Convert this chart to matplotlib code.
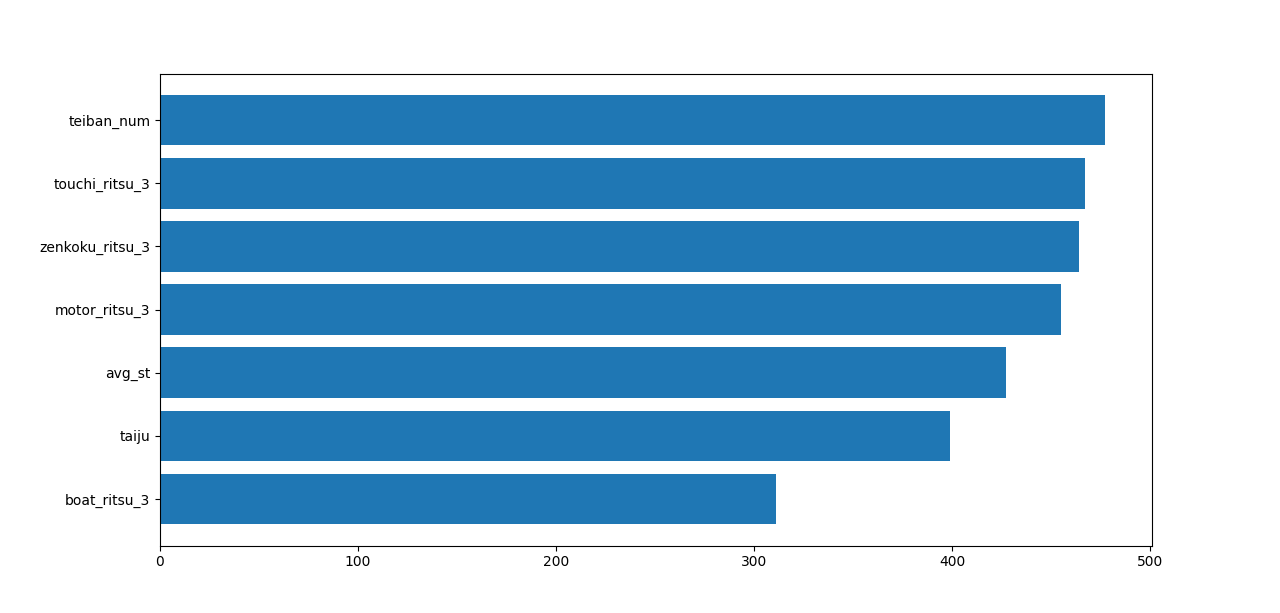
import matplotlib
matplotlib.use('Agg')
import matplotlib.pyplot as plt

features = ['boat_ritsu_3', 'taiju', 'avg_st', 'motor_ritsu_3',
            'zenkoku_ritsu_3', 'touchi_ritsu_3', 'teiban_num']
importance = [311, 399, 427, 455, 464, 467, 477]

fig, ax = plt.subplots(figsize=(12.8, 6.13), dpi=100)
ax.barh(features, importance)
fig.savefig('out.png')
